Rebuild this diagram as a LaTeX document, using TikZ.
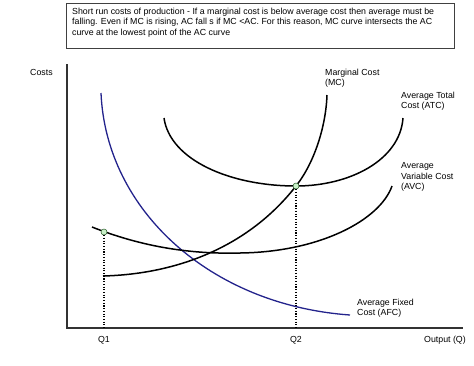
\documentclass[tikz,border=0pt]{standalone}
\usepackage{fontspec}
\setmainfont{Liberation Sans}
\definecolor{afcblue}{RGB}{35,35,140}
\definecolor{ptfill}{RGB}{200,240,200}
\definecolor{ptline}{RGB}{40,90,40}
\definecolor{axisgray}{RGB}{50,50,50}
\begin{document}
\begin{tikzpicture}[x=1pt,y=-1pt,
  curve/.style={line width=1.5pt,black},
  afccurve/.style={line width=1.3pt,afcblue},
  axisline/.style={line width=1.5pt,axisgray},
  guide/.style={line width=1.1pt,dash pattern=on 1.1pt off 1.6pt},
  lbl/.style={font=\fontsize{8.8}{10.5}\selectfont,align=left,inner sep=0pt},
  pt/.style={circle,draw=ptline,fill=ptfill,minimum size=6pt,inner sep=0pt,line width=0.5pt}]
\useasboundingbox (0,0) rectangle (474,365);
% note box
\node[draw=black!75,line width=0.8pt,minimum width=388pt,minimum height=45pt,anchor=north west] (box) at (66,3) {};
\node[anchor=north west,inner sep=0pt,align=left,font=\fontsize{8.8}{10.4}\selectfont] (note) at (72,8) {Short run costs of production - If a marginal cost is below average cost then average must be\\falling. Even if MC is rising, AC fall s if MC {<}AC. For this reason, MC curve intersects the AC\\curve at the lowest point of the AC curve};
% axes
\coordinate (top) at (67,64);
\coordinate (origin) at (67,328);
\coordinate (right) at (463,328);
\draw[axisline] (top) -- (origin) -- (right);
\node[lbl,anchor=west] (costs) at (30,72) {Costs};
\node[lbl,anchor=west] (output) at (424,340) {Output (Q)};
% AFC
\draw[afccurve] (101,93) .. controls (106,210) and (210,305) .. (350,315);
% ATC
\draw[curve] (164,118) .. controls (170,160) and (230,186) .. (296,186)
                       .. controls (350,186) and (400,160) .. (403,118);
% MC
\draw[curve] (103,276) .. controls (180,274) and (250,245) .. (296,186)
                       .. controls (315,162) and (326,125) .. (327,95);
% AVC
\draw[curve] (92,227) .. controls (150,250) and (200,254) .. (240,253)
                      .. controls (320,252) and (380,220) .. (392,186);
% points
\node[pt] (p1) at (104,232) {};
\node[pt] (p2) at (296,186) {};
\coordinate (q1base) at (104,328);
\coordinate (q2base) at (296,328);
\draw[guide] (p1) -- (q1base);
\draw[guide] (p2) -- (q2base);
\node[lbl] (q1) at (104,340) {Q1};
\node[lbl] (q2) at (296,340) {Q2};
% labels
\node[lbl,anchor=west] (mclbl) at (325,78) {Marginal Cost\\(MC)};
\node[lbl,anchor=west] (atclbl) at (401,101) {Average Total\\Cost (ATC)};
\node[lbl,anchor=west] (avclbl) at (401,177) {Average\\Variable Cost\\(AVC)};
\node[lbl,anchor=west] (afclbl) at (357,308) {Average Fixed\\Cost (AFC)};
\end{tikzpicture}
\end{document}
